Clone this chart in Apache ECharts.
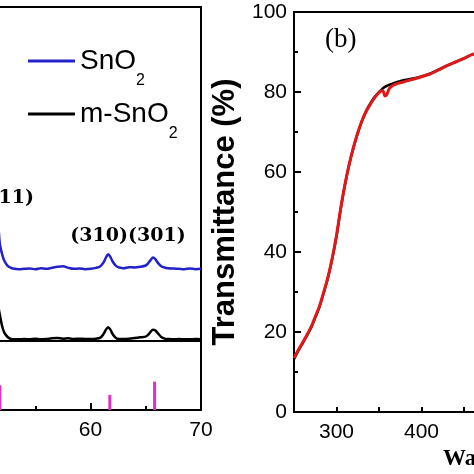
<!DOCTYPE html>
<html>
<head>
<meta charset="utf-8">
<script src="https://cdn.jsdelivr.net/npm/echarts@6/dist/echarts.min.js"></script>
<style>html,body{margin:0;padding:0;background:#fff;}#c{width:474px;height:474px;}</style>
</head>
<body>
<div id="c"></div>
<script>
// ---- Panel (a): XRD (partially visible) ----
var xrdAngle = [50, 51, 51.5, 51.7, 51.8, 52.0, 52.2, 52.5, 52.8, 53, 53.5, 54, 54.5, 55, 55.5, 56, 56.5, 57, 57.5, 58, 58.5, 59, 59.5, 60, 60.5, 60.9, 61.2, 61.4, 61.6, 61.8, 62.0, 62.3, 62.6, 63, 63.5, 64, 64.5, 65, 65.2, 65.45, 65.65, 65.85, 66.1, 66.4, 66.7, 67, 67.5, 68, 68.5, 69, 69.5, 70];
var snO2 =    [21.8, 23, 45, 33, 29, 26, 24, 22.5, 21.9, 21.7, 21.5, 21.6, 21.7, 21.5, 21.8, 21.6, 21.9, 22.2, 22.4, 21.9, 21.6, 21.7, 21.5, 21.6, 21.9, 22.4, 23.6, 25, 26, 25.2, 23.8, 22.5, 22.0, 21.8, 22.1, 22.0, 22.2, 22.6, 23.2, 24.3, 25.0, 24.6, 23.4, 22.4, 22.0, 21.8, 21.7, 21.6, 21.5, 21.7, 21.5, 21.6];
var mSnO2 =   [0.6, 1.2, 14, 9.5, 7.8, 4.5, 2.5, 1.2, 0.6, 0.5, 0.5, 0.6, 0.5, 0.7, 0.5, 0.6, 0.8, 0.9, 0.7, 0.8, 0.6, 0.7, 0.6, 0.6, 0.7, 1.0, 2.2, 3.4, 4.1, 3.4, 2.1, 0.9, 0.6, 0.6, 0.7, 0.9, 1.1, 1.3, 1.8, 2.8, 3.4, 3.2, 2.3, 1.2, 0.7, 0.6, 0.5, 0.6, 0.5, 0.5, 0.6, 0.5];
var refAngle = [51.8, 61.75, 65.8];
var refIntensity = [36, 22, 41];

// ---- Panel (b): Transmittance ----
var wavelength = [250, 255, 260, 265, 270, 275, 280, 285, 290, 295, 300, 305, 310, 315, 320, 325, 330, 335, 340, 345, 350, 353, 355, 357, 359, 362, 366, 370, 375, 380, 390, 400, 410, 420, 430, 440, 450, 460, 470];
var transRed =   [13.5, 15.5, 17.3, 19.2, 21.2, 23.8, 26.5, 30, 33.8, 38.5, 44.2, 51, 57, 62, 66.2, 69.8, 72.8, 75.2, 77, 78.6, 79.8, 80.3, 80.2, 79.0, 79.3, 80.8, 81.6, 82.0, 82.3, 82.6, 83.2, 83.8, 84.5, 85.5, 86.6, 87.5, 88.4, 89.4, 89.8];
var transBlack = [13.2, 15.3, 17.1, 19.0, 21.0, 23.6, 26.3, 29.8, 33.6, 38.3, 43.9, 50.8, 56.8, 61.9, 66.1, 69.7, 72.8, 75.3, 77.2, 78.8, 80.0, 80.6, 81.0, 81.3, 81.5, 81.8, 82.1, 82.4, 82.7, 83.0, 83.4, 83.9, 84.6, 85.6, 86.6, 87.5, 88.4, 89.4, 89.8];

var xTicksA = {interval: 10};
var xTicksB = {interval: 50};

function zip(a, b) { return a.map(function (v, i) { return [v, b[i]]; }); }

var SANS = 'Liberation Sans, Arial, sans-serif';
var SERIF = 'Liberation Serif, Times New Roman, serif';
var WIDE_SERIF = 'DejaVu Serif, serif';

var chart = echarts.init(document.getElementById('c'), null, {renderer: 'canvas'});
chart.setOption({
  animation: false,
  backgroundColor: '#fff',
  grid: [
    {left: -20, top: 7, width: 221, height: 334, show: true, borderColor: '#000', borderWidth: 2, backgroundColor: 'transparent', outerBoundsMode: 'none', containLabel: false},
    {left: -20, top: 341, width: 221, height: 69, show: true, borderColor: '#000', borderWidth: 2, backgroundColor: 'transparent', outerBoundsMode: 'none', containLabel: false},
    {left: 294, top: 12, width: 467.5, height: 400, show: true, borderColor: '#000', borderWidth: 2, backgroundColor: 'transparent', outerBoundsMode: 'none', containLabel: false}
  ],
  xAxis: [
    {gridIndex: 0, type: 'value', min: 50, max: 70, interval: xTicksA.interval,
      axisLine: {show: false}, axisTick: {show: false}, axisLabel: {show: false}, splitLine: {show: false}},
    {gridIndex: 1, type: 'value', min: 50, max: 70, interval: xTicksA.interval,
      axisLine: {show: true, lineStyle: {color: '#000', width: 2}},
      axisTick: {show: true, inside: true, length: 7, lineStyle: {color: '#000', width: 2}},
      minorTick: {show: true, splitNumber: 2, length: 4, lineStyle: {color: '#000', width: 2}},
      axisLabel: {show: true, color: '#000', fontSize: 21, fontFamily: SANS, margin: 10},
      splitLine: {show: false}},
    {gridIndex: 2, type: 'value', min: 250, max: 800, interval: xTicksB.interval,
      name: 'Wavelength (nm)', nameLocation: 'middle', nameGap: 32,
      nameTextStyle: {color: '#000', fontSize: 23, fontWeight: 'bold', fontFamily: SERIF},
      axisLine: {show: true, lineStyle: {color: '#000', width: 2}},
      axisTick: {show: true, inside: true, length: 5, lineStyle: {color: '#000', width: 2}},
      axisLabel: {show: true, color: '#000', fontSize: 21, fontFamily: SANS, margin: 10,
        formatter: function (v) { return (v % 100 === 0) ? String(v) : ''; }},
      splitLine: {show: false}}
  ],
  yAxis: [
    {gridIndex: 0, type: 'value', min: 0, max: 100, show: false},
    {gridIndex: 1, type: 'value', min: 0, max: 100, show: false},
    {gridIndex: 2, type: 'value', min: 0, max: 100, interval: 20,
      name: 'Transmittance (%)', nameLocation: 'middle', nameGap: 37,
      nameTextStyle: {color: '#000', fontSize: 31, fontWeight: 'bold', fontFamily: SANS},
      axisLine: {show: true, lineStyle: {color: '#000', width: 2}},
      axisTick: {show: true, inside: true, length: 7, lineStyle: {color: '#000', width: 2}},
      minorTick: {show: true, splitNumber: 2, length: 4, lineStyle: {color: '#000', width: 2}},
      axisLabel: {show: true, color: '#000', fontSize: 21, fontFamily: SANS, margin: 7},
      splitLine: {show: false}}
  ],
  legend: {
    orient: 'vertical', left: 23, top: 28, itemGap: -3,
    itemWidth: 47, itemHeight: 3, icon: 'rect',
    data: ['SnO2', 'm-SnO2'],
    formatter: function (n) { return n === 'SnO2' ? '{a|SnO}{s|2}' : '{a|m-SnO}{s|2}'; },
    textStyle: {
      color: '#000',
      rich: {
        a: {fontSize: 28, fontFamily: SANS, color: '#000', lineHeight: 30},
        s: {fontSize: 16, fontFamily: SANS, color: '#000', lineHeight: 16, padding: [40, 0, 0, 0]}
      }
    }
  },
  graphic: [
    {type: 'text', left: 325, top: 26, style: {text: '(b)', fontSize: 27, fontFamily: SERIF, fill: '#000'}},
    {type: 'text', x: 34, y: 198, style: {text: '(211)', fontSize: 19, fontWeight: 'bold', fontFamily: WIDE_SERIF, fill: '#000', align: 'right', verticalAlign: 'middle'}},
    {type: 'text', x: 128, y: 236, style: {text: '(310)(301)', fontSize: 19, fontWeight: 'bold', fontFamily: WIDE_SERIF, fill: '#000', align: 'center', verticalAlign: 'middle'}}
  ],
  series: [
    {name: 'SnO2', type: 'line', xAxisIndex: 0, yAxisIndex: 0, data: zip(xrdAngle, snO2), symbol: 'none', smooth: 0.3,
      lineStyle: {color: '#2222c8', width: 2.5}, itemStyle: {color: '#2222c8'}, clip: true},
    {name: 'm-SnO2', type: 'line', xAxisIndex: 0, yAxisIndex: 0, data: zip(xrdAngle, mSnO2), symbol: 'none', smooth: 0.3,
      lineStyle: {color: '#000', width: 2.5}, itemStyle: {color: '#000'}, clip: true},
    {name: 'ref', type: 'bar', xAxisIndex: 1, yAxisIndex: 1, data: zip(refAngle, refIntensity), barWidth: 3,
      itemStyle: {color: '#e030c0'}},
    {name: 'T-black', type: 'line', xAxisIndex: 2, yAxisIndex: 2, data: zip(wavelength, transBlack), symbol: 'none', smooth: 0.3,
      lineStyle: {color: '#000', width: 2.5}, clip: true},
    {name: 'T-red', type: 'line', xAxisIndex: 2, yAxisIndex: 2, data: zip(wavelength, transRed), symbol: 'none', smooth: 0.3,
      lineStyle: {color: '#e01818', width: 3}, clip: true}
  ]
});
</script>
</body>
</html>
